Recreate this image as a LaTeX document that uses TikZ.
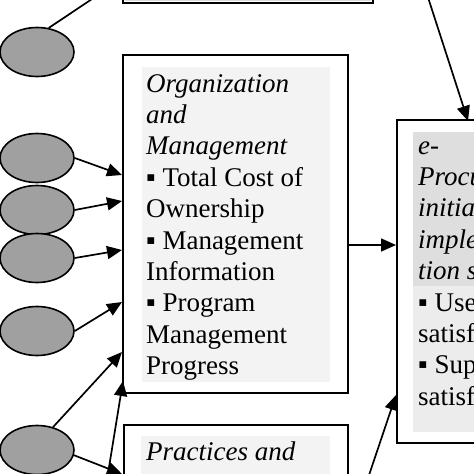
\documentclass[tikz,border=0pt]{standalone}
\usepackage{fontspec}
\setmainfont{Liberation Serif}
\usetikzlibrary{arrows.meta,shapes.geometric}
\definecolor{ovalfill}{HTML}{A0A0A0}
\definecolor{boxfill}{HTML}{F3F3F3}
\definecolor{headfill}{HTML}{DEDEDE}
\definecolor{bodyfill}{HTML}{ECECEC}
\definecolor{topfill}{HTML}{D9D9D9}

\begin{document}
\begin{tikzpicture}[x=1pt, y=-1pt,
	oval/.style={ellipse, draw, line width=1.6pt, fill=ovalfill, minimum width=74pt, minimum height=49pt, inner sep=0pt},
	frame/.style={draw, line width=2.2pt, inner sep=0pt},
	arr/.style={line width=1.7pt, -{Triangle[length=15pt,width=13pt]}},
	txt/.style={anchor=base west, align=left, inner sep=0pt, font=\fontsize{27}{31.4}\selectfont}]
		\useasboundingbox (0,0) rectangle (474,474);
		\clip (0,0) rectangle (474,474);
		\fill[topfill] (125,-20) rectangle (371,1);
		\node[frame, minimum width=250pt, minimum height=203pt] (top) at (248,-98.5) {};
		\node[frame, minimum width=225pt, minimum height=338pt] (org) at (235.5,224) {};
		\fill[boxfill] (142,67) rectangle (330,382);
		\node[txt] (orgtext) at (146,374.6) {\textit{Organization}\\ \textit{and}\\ \textit{Management}\\ ▪ Total Cost of\\ Ownership\\ ▪ Management\\ Information\\ ▪ Program\\ Management\\ Progress};
		\node[frame, minimum width=250pt, minimum height=323pt] (res) at (522,281.5) {};
		\fill[headfill] (413,132) rectangle (480,286);
		\fill[bodyfill] (413,286) rectangle (480,432);
		\node[txt] (restext) at (418,405.2) {\textit{e-}\\ \textit{Procurement}\\ \textit{initiatives}\\ \textit{implementa-}\\ \textit{tion success}\\ ▪ User\\ satisfaction\\ ▪ Supplier\\ satisfaction};
		\node[frame, minimum width=224pt, minimum height=270pt] (prac) at (236,560) {};
		\fill[boxfill] (141,436) rectangle (330,480);
		\node[txt] (practext) at (146,460) {\textit{Practices and}};
		\node[oval] (e1) at (37,52) {};
		\node[oval] (e2) at (37,158) {};
		\node[oval] (e3) at (37,210) {};
		\node[oval] (e4) at (37,258) {};
		\node[oval] (e5) at (37,331) {};
		\node[oval] (e6) at (37,450) {};
		\coordinate (u1) at (104,-9);
		\coordinate (t2) at (122,175);
		\coordinate (t3) at (122,201);
		\coordinate (t4) at (122,250);
		\coordinate (t5) at (122,302);
		\coordinate (t6) at (122,352);
		\coordinate (t7) at (122,474);
		\coordinate (b1) at (105,492);
		\coordinate (t8) at (123,381);
		\coordinate (r1) at (396,245);
		\coordinate (b2) at (364,490);
		\coordinate (r2) at (396,395);
		\coordinate (u2) at (424,-15);
		\coordinate (r3) at (468,121);
		\draw[line width=1.7pt] (e1.64) -- (u1);
		\draw[arr] (e2.east) -- (t2);
		\draw[arr] (e3.east) -- (t3);
		\draw[arr] (e4.east) -- (t4);
		\draw[arr] (e5.east) -- (t5);
		\draw[arr] (e6.55) -- (t6);
		\draw[arr] (e6.-8) -- (t7);
		\draw[arr] (b1) -- (t8);
		\draw[arr] (org.east |- r1) -- (r1);
		\draw[arr] (b2) -- (r2);
		\draw[arr] (u2) -- (r3);
	\end{tikzpicture}
\end{document}
